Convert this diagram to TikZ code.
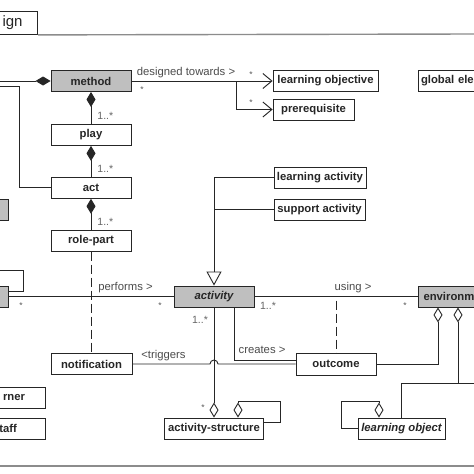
\documentclass[tikz,border=0pt]{standalone}
\usepackage{fontspec}
\setmainfont{Liberation Sans}
\usepackage{tikz}
\usetikzlibrary{arrows.meta,positioning}
\tikzset{>=latex}
\tikzstyle{cls}=[draw=black!85,line width=0.9pt,fill=white,minimum width=80pt,minimum height=21pt,inner sep=0pt,text=black!85,font=\fontsize{11.3}{13}\selectfont\bfseries]
\tikzstyle{abscls}=[cls,fill=black!25]
\tikzstyle{lbl}=[inner sep=0pt,text=black!70,font=\fontsize{11.3}{13}\selectfont]
\tikzstyle{card}=[inner sep=0pt,text=black!60,font=\fontsize{10.5}{12}\selectfont]
\tikzstyle{star}=[inner sep=0pt,text=black!65,font=\fontsize{8.5}{10}\selectfont]
\tikzstyle{assoc}=[draw=black!85,line width=0.9pt]
\tikzstyle{comp}=[assoc,{Diamond[length=15pt,width=9pt]}-]
\tikzstyle{aggr}=[assoc,{Diamond[open,length=15pt,width=9pt]}-]
\tikzstyle{gen}=[assoc,-{Triangle[open,length=14pt,width=15pt]}]
\tikzstyle{nav}=[assoc,-{Straight Barb[length=9pt,width=15pt]}]
\tikzstyle{dep}=[assoc,dash pattern=on 9pt off 4pt]
\tikzstyle{frame}=[draw=black!45,line width=1.4pt]

\begin{document}
\begin{tikzpicture}[x=1pt,y=-1pt]
  \useasboundingbox (0,0) rectangle (474,474);
  \clip (0,0) rectangle (474,474);
  \fill[white] (0,0) rectangle (474,474);

  % package frame
  \node[draw=black!85,line width=0.9pt,anchor=north east,minimum height=23pt,inner xsep=15pt,inner ysep=0pt,text=black!85,font=\fontsize{15}{17}\selectfont] (tab) at (38,11) {ign};
  \draw[frame] (tab.south east) -- (474,34);
  \draw[frame] (0,466) -- (474,466);

  % method side
  \node[abscls] (method) at (91,81) {method};
  \node[cls,below=32pt of method] (play) {play};
  \node[cls,below=31pt of play] (act) {act};
  \node[cls,below=31pt of act] (rolepart) {role-part};
  \node[cls,minimum width=81pt] (notification) at (91.5,364) {notification};
  \node[cls,minimum width=105pt] (lobjective) at (325.5,81) {learning objective};
  \node[cls,minimum width=81pt] (prereq) at (313.5,109.5) {prerequisite};
  \node[cls,minimum width=93pt,text width=87pt,align=left] (global) at (464.5,81) {global ele};

  % cut-off boxes on the left
  \node[abscls,minimum width=48pt] (leftA) at (-16,209.5) {};
  \node[abscls,minimum width=48pt] (leftB) at (-16,296.5) {};
  \node[cls,text width=40pt,align=right] (learner) at (5,397.5) {rner};
  \node[cls,text width=24pt,align=right] (staff) at (5,428.5) {taff};

  % activity side
  \node[abscls,font=\fontsize{11.3}{13}\selectfont\bfseries\itshape] (activity) at (214,296.5) {activity};
  \node[cls,minimum width=92pt] (learnact) at (320,177.5) {learning activity};
  \node[cls,minimum width=91pt] (suppact) at (319.5,209.5) {support activity};
  \node[abscls,text width=69pt,align=left] (environment) at (458,296.5) {environm};
  \node[cls,minimum height=22pt] (outcome) at (336,364) {outcome};
  \node[cls,minimum width=99pt] (actstruct) at (214,428.5) {activity-structure};
  \node[cls,minimum width=87pt,font=\fontsize{11.3}{13}\selectfont\bfseries\itshape] (lobject) at (401.5,428.5) {learning object};

  \coordinate (westA) at (-5,81);
  \coordinate (westB) at (-5,86);
  \coordinate (envout) at (480,383);

  % compositions
  \draw[comp] (method.west) -- (westA);
  \draw[assoc] (act.west) -| (19,86) -- (westB);
  \foreach \a/\b in {method/play,play/act,act/rolepart}{
    \draw[comp] (\a.south) -- (\b.north) node[card,pos=0.75,anchor=west,xshift=6pt] {1..*};
  }
  \draw[dep] (rolepart.south) -- (rolepart.south |- notification.north);

  % designed towards
  \draw[nav] (method.east) -- (lobjective.west);
  \draw[nav] ([xshift=-36pt]lobjective.west) |- (prereq.west);
  \node[lbl] at (186,73) {designed towards >};
  \node[star] at (142,90) {*};
  \node[star] at (251,75) {*};
  \node[star] at (251,103) {*};

  % performs
  \draw[assoc] (leftB.east) -- (activity.west);
  \draw[assoc] (leftB.north) |- (23,270) |- ([yshift=5.5pt]leftB.east);
  \node[lbl] at (125.5,288) {performs >};
  \node[star] at (21,306) {*};
  \node[star] at (160,306) {*};

  % generalisation
  \draw[gen] (learnact.west) -| (activity.north);
  \draw[assoc] (suppact.west) -- (suppact.west -| activity.north);

  % using
  \draw[assoc] (activity.east) -- (environment.west);
  \draw[dep] ([yshift=-4pt]outcome.north |- activity.east) -- (outcome.north);
  \node[lbl] at (353,288) {using >};
  \node[card] at (268,306) {1..*};
  \node[star] at (405,306) {*};

  % creates / triggers
  \draw[assoc] ([xshift=20pt]activity.south) |- ([yshift=4pt]outcome.west);
  \draw[assoc] (notification.east) -- ([xshift=-4pt]notification.east -| activity.south)
    arc[start angle=180,end angle=0,radius=4pt] -- (outcome.west);
  \node[lbl] at (262,350) {creates >};
  \node[lbl] at (163.5,356) {<triggers};

  % aggregations
  \draw[aggr] (actstruct.north) -- (activity.south);
  \node[card] at (200,320) {1..*};
  \node[star] at (203,408) {*};
  \draw[aggr] ([xshift=24pt]actstruct.north) -- ++(0,-16) -| ([xshift=16pt,yshift=6pt]actstruct.east) -- ([yshift=6pt]actstruct.east);
  \draw[aggr] ([xshift=-22.5pt]lobject.north) -- ++(0,-16) -| ([xshift=-16pt]lobject.west) -- (lobject.west);
  \draw[aggr] (environment.south) -- ++(0,76) -| (lobject.north);
  \draw[assoc] (environment.south |- envout) -- (envout);
  \draw[aggr] ([xshift=-20pt]environment.south) |- (outcome.east);

\end{tikzpicture}
\end{document}
